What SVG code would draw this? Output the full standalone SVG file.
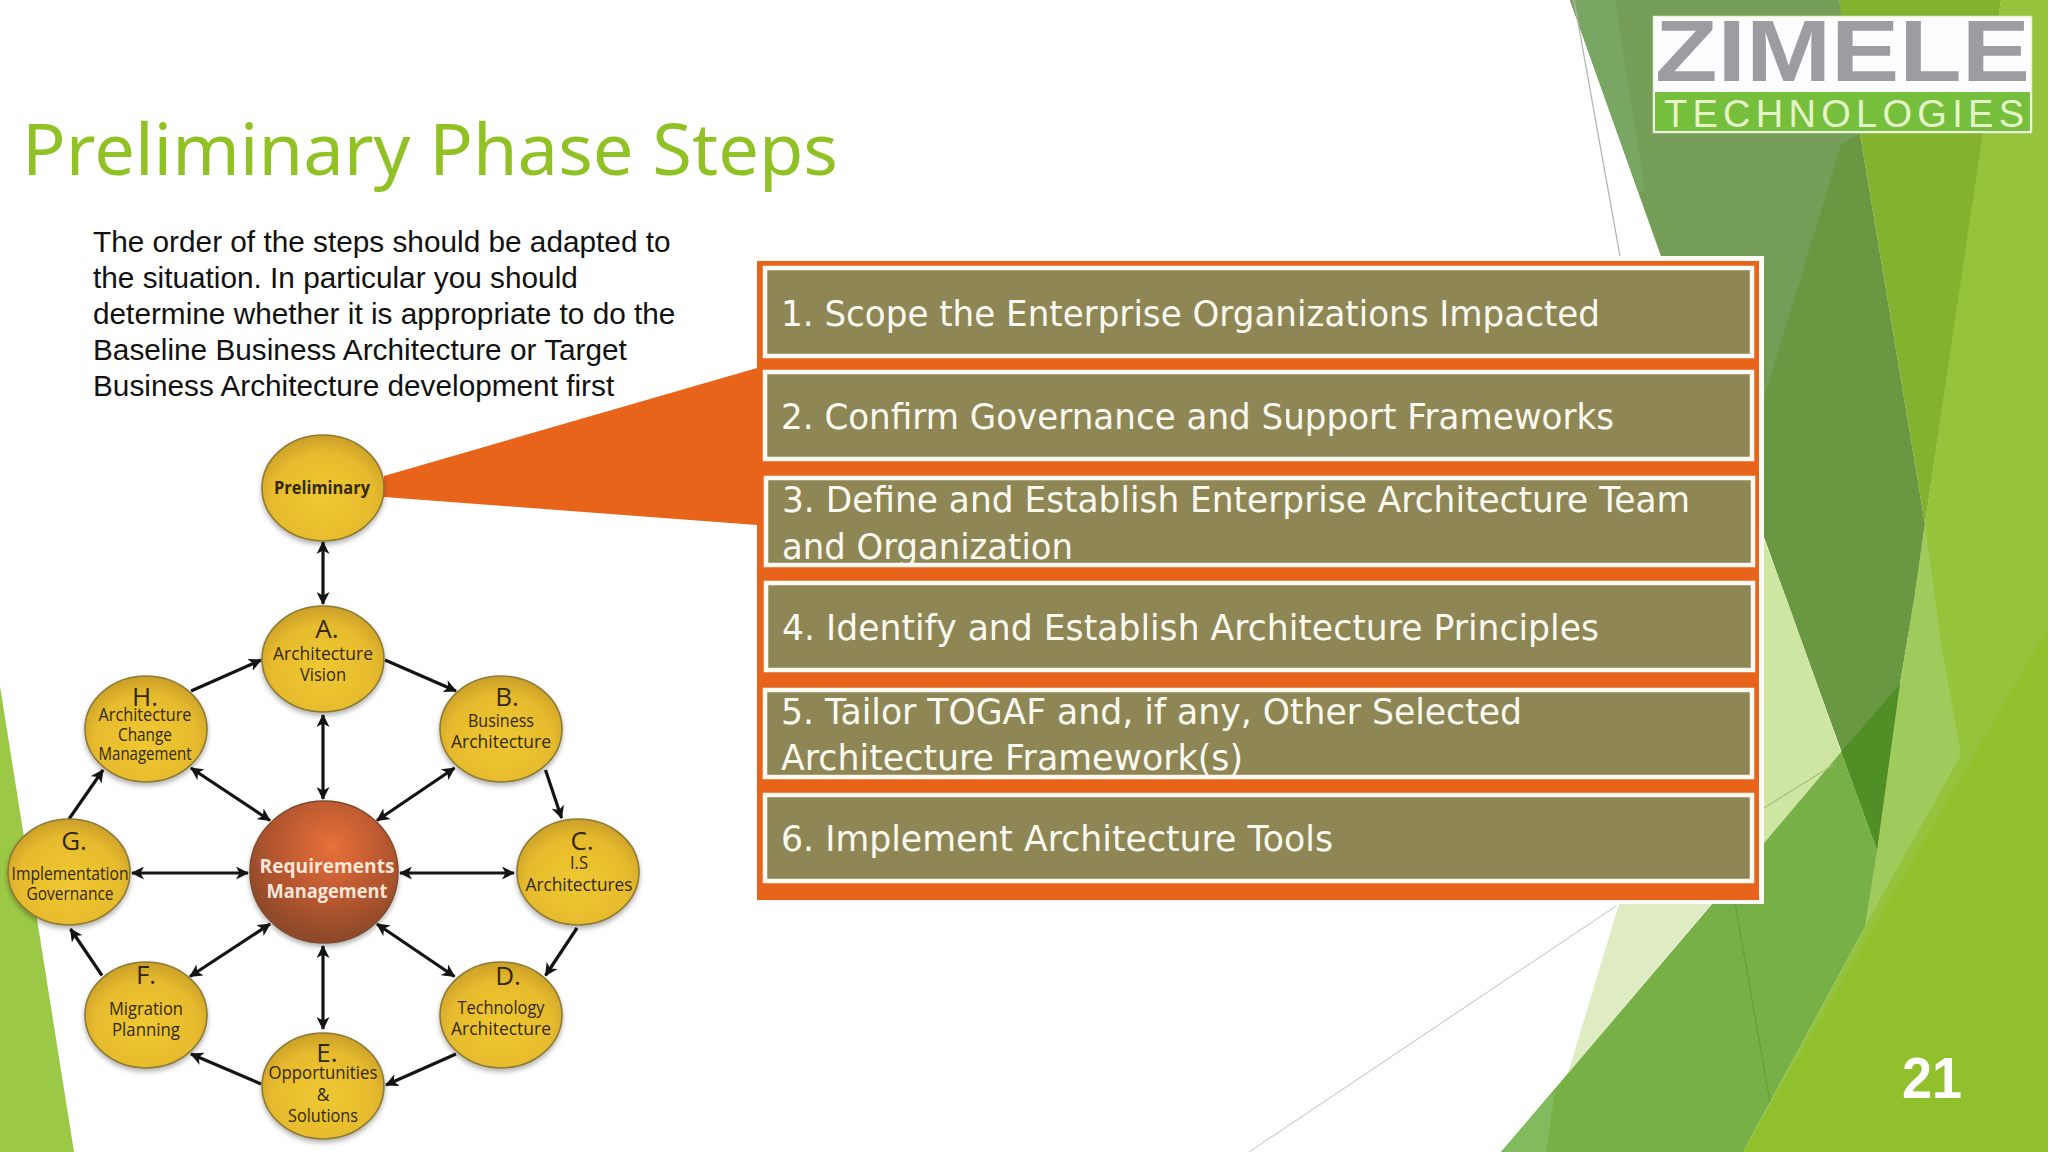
<svg xmlns="http://www.w3.org/2000/svg" width="2048" height="1152" viewBox="0 0 2048 1152">
<style>
.t{font-family:"DejaVu Sans","Noto Sans",sans-serif;font-size:36px;fill:#fbfaf0}
.p{font-family:"Liberation Sans",Arial,sans-serif;font-size:29.77px;fill:#111}
.n{font-family:"Open Sans","Noto Sans",sans-serif;font-size:17.5px;fill:#33290a;text-anchor:middle;font-weight:500}
.l{font-family:"Open Sans","Noto Sans",sans-serif;font-size:26px;fill:#33290a;text-anchor:middle;font-weight:500}
.e{fill:url(#y);stroke:#8c7a34;stroke-width:1.6;filter:url(#s)}
.box{fill:#8f8655}
.bs{fill:none;stroke:#fbfaf2;stroke-width:4.5}
.c{fill:none;stroke:#141414;stroke-width:3.2;marker-end:url(#a)}
.b{marker-start:url(#a)}
</style>
<defs>
<radialGradient id="y" cx="50%" cy="60%" r="60%"><stop offset="0" stop-color="#efc831"/><stop offset="0.7" stop-color="#e6bb2d"/><stop offset="1" stop-color="#cb9f2b"/></radialGradient>
<radialGradient id="r" cx="55%" cy="32%" r="65%"><stop offset="0" stop-color="#e8703a"/><stop offset="0.6" stop-color="#b5562f"/><stop offset="1" stop-color="#8e4a2a"/></radialGradient>
<filter id="s" x="-15%" y="-15%" width="130%" height="135%"><feDropShadow dx="0" dy="3" stdDeviation="2.5" flood-color="#000" flood-opacity="0.3"/></filter>
<marker id="a" viewBox="0 0 13 13" refX="12" refY="6.5" markerWidth="13" markerHeight="13" markerUnits="userSpaceOnUse" orient="auto-start-reverse"><path d="M0 0L13 6.5L0 13L3.5 6.5Z" fill="#141414"/></marker>
<clipPath id="c3"><rect x="765" y="477" width="990" height="86"/></clipPath>
<clipPath id="c5"><rect x="765" y="688" width="990" height="88"/></clipPath>
</defs>

<rect width="2048" height="1152" fill="#fff"/>
<g id="background">
<polygon points="0,686 74,1152 0,1152" fill="#9bc945"/>
<polygon points="2001,0 2048,0 2048,1152 1743,1152 1865,927 1925,524" fill="#95c33c"/>
<polygon points="2048,628 2048,1152 1743,1152" fill="#90c02c"/>
<polygon points="1839,0 2001,0 1982,138 1925,524 1860,134" fill="#82b22e"/>
<polygon points="1570,0 1839,0 1860,134 1925,524 1914,600 1900,684 1877,850" fill="#6a9842"/>
<polygon points="1570,0 1839,0 1860,134 1841,145 1764,398 1712,400" fill="#749e57"/>
<polygon points="1570,0 1615,0 1645,191 1638,191" fill="#7aa664"/>
<polygon points="1925,524 1941,642 1961,755 1888,885 1865,927 1877,850 1900,684 1914,600" fill="#9ecb5c"/>
<polygon points="1841,752 1900,684 1877,850" fill="#4f8f26"/>
<polygon points="1700,500 1764,540 1787,600 1841,752 1764,843 1700,843" fill="#cfe5a2"/>
<polygon points="1619,904 1711,904 1568,1073" fill="#dfebc3"/>
<polygon points="1841,752 1877,850 1865,927 1743,1152 1501,1152 1764,843" fill="#78b048"/>
<polygon points="1555,1090 1546,1152 1501,1152" fill="#82bb5e"/>
<g fill="none" stroke-width="1.3">
<line x1="1574" y1="0" x2="1620" y2="256" stroke="#b4b4b4"/>
<line x1="1249" y1="1152" x2="1616" y2="906" stroke="#d2d2d2"/>
<line x1="1764" y1="808" x2="1833" y2="765" stroke="#a8c080"/>
<line x1="1735" y1="903" x2="1770" y2="1102" stroke="#66a038"/>
</g>
</g>

<text x="22" y="175" font-family="Noto Sans, DejaVu Sans, sans-serif" font-size="72" fill="#90c226" textLength="816" lengthAdjust="spacingAndGlyphs">Preliminary Phase Steps</text>

<g id="intro">
<text class="p" x="93" y="252">The order of the steps should be adapted to</text>
<text class="p" x="93" y="288">the situation. In particular you should</text>
<text class="p" x="93" y="324">determine whether it is appropriate to do the</text>
<text class="p" x="93" y="360">Baseline Business Architecture or Target</text>
<text class="p" x="93" y="396">Business Architecture development first</text>
</g>

<g id="logo">
<rect x="1653.5" y="16.5" width="378" height="116" fill="#fdfcfe" stroke="#e8f2d8" stroke-width="1.5"/>
<text x="1655" y="81" font-family="Liberation Sans, sans-serif" font-weight="700" font-size="88" fill="#9d9ca1" textLength="375" lengthAdjust="spacingAndGlyphs">ZIMELE</text>
<rect x="1655" y="92" width="375" height="39" fill="#76bf3c"/>
<text x="1664" y="127" font-family="Liberation Sans, sans-serif" font-size="38" fill="#e6f5c8" textLength="360" lengthAdjust="spacing">TECHNOLOGIES</text>
</g>

<g id="callout">
<rect x="757" y="256" width="1007" height="648" fill="#fbfaf4"/>
<polygon points="384,476 757,368 757,525 384,497" fill="#e8641b"/>
<rect x="757" y="261" width="1002" height="639" fill="#e8641b"/>
</g>

<g id="step1"><rect class="box" x="765" y="268" width="987" height="88"/><text class="t" x="781" y="326" textLength="819" lengthAdjust="spacingAndGlyphs">1. Scope the Enterprise Organizations Impacted</text><rect class="bs" x="765" y="268" width="987" height="88"/></g>
<g id="step2"><rect class="box" x="765" y="372" width="987" height="87"/><text class="t" x="781" y="429" textLength="833" lengthAdjust="spacingAndGlyphs">2. Confirm Governance and Support Frameworks</text><rect class="bs" x="765" y="372" width="987" height="87"/></g>
<g id="step3"><rect class="box" x="766" y="478" width="987" height="87"/><g clip-path="url(#c3)"><text class="t" x="782" y="512" textLength="908" lengthAdjust="spacingAndGlyphs">3. Define and Establish Enterprise Architecture Team</text><text class="t" x="782" y="559" textLength="291" lengthAdjust="spacingAndGlyphs">and Organization</text></g><rect class="bs" x="766" y="478" width="987" height="87"/></g>
<g id="step4"><rect class="box" x="766" y="583" width="987" height="87"/><text class="t" x="782" y="640" textLength="817" lengthAdjust="spacingAndGlyphs">4. Identify and Establish Architecture Principles</text><rect class="bs" x="766" y="583" width="987" height="87"/></g>
<g id="step5"><rect class="box" x="765" y="690" width="987" height="87"/><g clip-path="url(#c5)"><text class="t" x="781" y="724" textLength="741" lengthAdjust="spacingAndGlyphs">5. Tailor TOGAF and, if any, Other Selected</text><text class="t" x="781" y="770" textLength="462" lengthAdjust="spacingAndGlyphs">Architecture Framework(s)</text></g><rect class="bs" x="765" y="690" width="987" height="87"/></g>
<g id="step6"><rect class="box" x="765" y="795" width="987" height="86"/><text class="t" x="781" y="851" textLength="552" lengthAdjust="spacingAndGlyphs">6. Implement Architecture Tools</text><rect class="bs" x="765" y="795" width="987" height="86"/></g>

<g id="connectors">
<line class="c b" x1="323" y1="542" x2="323" y2="604"/>
<line class="c" x1="385" y1="660" x2="456" y2="691"/>
<line class="c" x1="545.5" y1="770" x2="561.6" y2="818"/>
<line class="c" x1="577" y1="928" x2="545.5" y2="975.5"/>
<line class="c" x1="456" y1="1054" x2="386" y2="1085"/>
<line class="c" x1="261" y1="1084" x2="191" y2="1054"/>
<line class="c" x1="102" y1="975.5" x2="70.5" y2="929"/>
<line class="c" x1="69" y1="819" x2="103" y2="770"/>
<line class="c" x1="191" y1="691" x2="261" y2="660"/>
<line class="c b" x1="323" y1="715" x2="323" y2="799"/>
<line class="c b" x1="191" y1="768" x2="270" y2="820.5"/>
<line class="c b" x1="454.5" y1="768" x2="377" y2="820.5"/>
<line class="c b" x1="132" y1="873" x2="248" y2="873"/>
<line class="c b" x1="400" y1="873" x2="514" y2="873"/>
<line class="c b" x1="190" y1="976.5" x2="270" y2="924"/>
<line class="c b" x1="454.5" y1="976.5" x2="377" y2="924"/>
<line class="c b" x1="323" y1="946" x2="323" y2="1029"/>
</g>

<g id="preliminary"><ellipse class="e" cx="323" cy="488" rx="61" ry="53"/><text class="n" x="322" y="494" font-weight="700" style="font-weight:700" textLength="96" lengthAdjust="spacingAndGlyphs">Preliminary</text></g>
<g id="a"><ellipse class="e" cx="323" cy="659" rx="61" ry="53"/><text class="l" x="327" y="638">A.</text><text class="n" x="323" y="660" textLength="100" lengthAdjust="spacingAndGlyphs">Architecture</text><text class="n" x="323" y="681" textLength="46" lengthAdjust="spacingAndGlyphs">Vision</text></g>
<g id="b"><ellipse class="e" cx="501" cy="729" rx="61" ry="53"/><text class="l" x="507" y="706">B.</text><text class="n" x="501" y="727" textLength="66" lengthAdjust="spacingAndGlyphs">Business</text><text class="n" x="501" y="748" textLength="100" lengthAdjust="spacingAndGlyphs">Architecture</text></g>
<g id="c"><ellipse class="e" cx="578" cy="872" rx="61" ry="53"/><text class="l" x="582" y="850">C.</text><text class="n" x="579" y="869" textLength="18" lengthAdjust="spacingAndGlyphs">I.S</text><text class="n" x="579" y="891" textLength="107" lengthAdjust="spacingAndGlyphs">Architectures</text></g>
<g id="d"><ellipse class="e" cx="501" cy="1015" rx="61" ry="53"/><text class="l" x="508" y="985">D.</text><text class="n" x="501" y="1014" textLength="87" lengthAdjust="spacingAndGlyphs">Technology</text><text class="n" x="501" y="1035" textLength="100" lengthAdjust="spacingAndGlyphs">Architecture</text></g>
<g id="e"><ellipse class="e" cx="323" cy="1086" rx="61" ry="53"/><text class="l" x="327" y="1062">E.</text><text class="n" x="323" y="1079" textLength="109" lengthAdjust="spacingAndGlyphs">Opportunities</text><text class="n" x="323" y="1101">&amp;</text><text class="n" x="323" y="1122" textLength="70" lengthAdjust="spacingAndGlyphs">Solutions</text></g>
<g id="f"><ellipse class="e" cx="146" cy="1015" rx="61" ry="53"/><text class="l" x="146" y="984">F.</text><text class="n" x="146" y="1015" textLength="74" lengthAdjust="spacingAndGlyphs">Migration</text><text class="n" x="146" y="1036" textLength="68" lengthAdjust="spacingAndGlyphs">Planning</text></g>
<g id="g"><ellipse class="e" cx="69" cy="872" rx="61" ry="53"/><text class="l" x="74" y="850">G.</text><text class="n" x="70" y="880" textLength="117" lengthAdjust="spacingAndGlyphs">Implementation</text><text class="n" x="70" y="900" textLength="87" lengthAdjust="spacingAndGlyphs">Governance</text></g>
<g id="h"><ellipse class="e" cx="146" cy="729" rx="61" ry="53"/><text class="l" x="145" y="706">H.</text><text class="n" x="145" y="721" textLength="93" lengthAdjust="spacingAndGlyphs">Architecture</text><text class="n" x="145" y="741" textLength="54" lengthAdjust="spacingAndGlyphs">Change</text><text class="n" x="145" y="760" textLength="93" lengthAdjust="spacingAndGlyphs">Management</text></g>
<g id="requirements"><ellipse cx="324" cy="872" rx="74" ry="71" fill="url(#r)" stroke="#7c4a2c" stroke-width="1.5" filter="url(#s)"/><text x="327" y="873" font-family="Open Sans, sans-serif" font-weight="700" font-size="19.5" fill="#fbe6da" text-anchor="middle" textLength="135" lengthAdjust="spacingAndGlyphs">Requirements</text><text x="327" y="898" font-family="Open Sans, sans-serif" font-weight="700" font-size="19.5" fill="#fbe6da" text-anchor="middle" textLength="121" lengthAdjust="spacingAndGlyphs">Management</text></g>

<text id="page" x="1902" y="1098" font-family="Liberation Sans, sans-serif" font-weight="700" font-size="58" fill="#fff" textLength="60" lengthAdjust="spacingAndGlyphs">21</text>
</svg>
